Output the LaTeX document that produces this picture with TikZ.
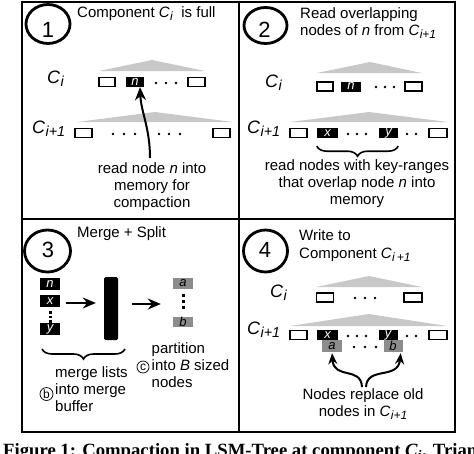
\documentclass[tikz,border=0pt]{standalone}
\usepackage{fontspec}
\setmainfont{Liberation Sans}
\newfontfamily\capfont{Liberation Serif}
\usepackage{graphicx}
\usetikzlibrary{decorations.pathreplacing,arrows.meta,shapes.geometric}
\definecolor{trigray}{RGB}{200,200,200}
\definecolor{boxgray}{RGB}{140,140,140}
\newcommand\CC[1]{\textit{C}\kern0.3pt\raisebox{-0.42ex}{\scalebox{0.8}{\textit{#1}}}}
\tikzset{
  frame/.style={line width=2pt},
  wbox/.style={draw, line width=1.5pt, fill=white, minimum width=16pt, minimum height=9pt, inner sep=0pt},
  bbox/.style={fill=black, text=white, minimum width=20pt, minimum height=10pt, inner sep=0pt, font=\itshape\fontsize{13}{13}\selectfont},
  gbox/.style={fill=boxgray, text=black, minimum width=20pt, minimum height=11pt, inner sep=0pt, font=\itshape\fontsize{13}{13}\selectfont},
  tri/.style={fill=trigray},
  ring/.style={draw, ellipse, line width=2.8pt, minimum width=44pt, minimum height=39pt, inner sep=0pt},
  digit/.style={font=\fontsize{22}{22}\selectfont, inner sep=0pt},
  txt/.style={font=\fontsize{15}{17}\selectfont, inner sep=0pt},
  title/.style={txt, align=left},
  lbl/.style={font=\fontsize{18}{18}\selectfont, anchor=base west, inner sep=0pt},
  bigarrow/.style={line width=2pt, -{Stealth[length=13pt,width=11pt]}},
  brc/.style={line width=1.6pt, decorate, decoration={brace, mirror, amplitude=10pt}},
  smallring/.style={draw, circle, line width=0.7pt, inner sep=0.6pt, minimum size=13pt, font=\fontsize{12}{12}\selectfont},
}
\newcommand\dotrow[2]{\foreach \xx in {#1} {\fill (\xx,#2) circle (1.4);}}
\begin{document}
\begin{tikzpicture}[x=1pt,y=-1pt]
\useasboundingbox (0,0) rectangle (474,453);
% frame
\draw[frame] (22,1.5) rectangle (455,432);
\draw[frame] (239,1.5) -- (239,432);
\draw[frame] (22,219) -- (455,219);

% ---------- Panel 1 ----------
\node[ring] (r1) at (48,24) {};
\node[digit] (d1) at (48,30) {1};
\node[txt, anchor=base west] (h1) at (77,17) {Component \CC{i}\ \ is full};
\fill[tri] (99,71) -- (152,60) -- (205,71) -- cycle;
\node[lbl] (l1a) at (47,83) {\CC{i}};
\node[wbox] (w1a) at (107,82) {};
\node[bbox, minimum width=18pt] (n1) at (135,82) {n};
\dotrow{156,166,176}{83}
\node[wbox, minimum width=17pt] (w1b) at (196.5,82) {};
\fill[tri] (77,122) -- (155,112) -- (233,122) -- cycle;
\node[lbl] (l1b) at (32,133) {\CC{i+1}};
\node[wbox, minimum width=17pt] (w1c) at (83.5,133) {};
\dotrow{113,124,135}{134}
\dotrow{159,169,180}{134}
\node[wbox, minimum width=17pt] (w1d) at (221.5,133) {};
\node[txt, align=center, anchor=north] (t1) at (152,162) {read node \textit{n} into\\memory for\\compaction};
\draw[bigarrow] ([yshift=4pt,xshift=-2pt]t1.north) .. controls (150,128) and (141,112) .. ([xshift=5pt]n1.south);

% ---------- Panel 2 ----------
\node[ring, minimum width=43pt, minimum height=36pt] (r2) at (265.5,25.5) {};
\node[digit] (d2) at (264.5,29.5) {2};
\node[title, anchor=north west] (h2) at (300,7) {Read overlapping\\nodes of \textit{n} from \CC{i+1}};
\fill[tri] (317,73) -- (370,62) -- (422,73) -- cycle;
\node[lbl] (l2a) at (265,87) {\CC{i}};
\node[wbox] (w2a) at (325,86.5) {};
\node[bbox] (n2) at (351,86.5) {n};
\dotrow{376,385,394}{87}
\node[wbox, minimum width=17pt] (w2b) at (413.5,86.5) {};
\fill[tri] (290,122) -- (369,112) -- (448,122) -- cycle;
\node[lbl] (l2b) at (247,133) {\CC{i+1}};
\node[wbox, minimum width=17pt] (w2c) at (298.5,133) {};
\node[bbox, minimum width=21pt] (x2) at (327.5,133) {x};
\dotrow{348,357,366}{134}
\node[bbox, minimum width=19pt] (y2) at (388.5,133) {y};
\dotrow{407,416}{134}
\node[wbox, minimum width=18pt] (w2d) at (438,133) {};
\draw[brc] ([yshift=-8pt]x2.south west) -- ([yshift=-8pt]y2.south east);
\node[txt, align=center, anchor=north] (t2) at (357,159) {read nodes with key-ranges\\that overlap node \textit{n} into\\memory};

% ---------- Panel 3 ----------
\node[ring, minimum width=46pt, minimum height=42pt] (r3) at (47.5,251) {};
\node[digit] (d3) at (48,250) {3};
\node[txt, anchor=base west] (h3) at (77,237) {Merge + Split};
\node[bbox, minimum height=12pt] (n3) at (50,284) {n};
\node[bbox, minimum height=12pt] (x3) at (50,301) {x};
\foreach \yy in {311,315.5,320} {\fill (48.5,\yy) rectangle (51.5,\yy+2.5);}
\node[bbox, minimum height=12pt] (y3) at (50,329) {y};
\node[fill=black, rounded corners=1.5pt, minimum width=14pt, minimum height=63pt, inner sep=0pt] (bar) at (111,308.5) {};
\node[gbox] (a3) at (183,283.5) {a};
\node[gbox, minimum height=10pt] (b3) at (183,322) {b};
\foreach \yy in {294,300,306} {\fill (181.5,\yy) rectangle (184.5,\yy+3);}
\draw[bigarrow] ([xshift=6pt,yshift=-2pt]x3.east) -- ([xshift=-8pt,yshift=-2pt]x3.east -| bar.west);
\draw[bigarrow] ([xshift=14pt,yshift=-3pt]bar.east |- x3.east) -- ([xshift=-12pt,yshift=-3pt]x3.east -| a3.west);
\draw[brc] (42,349) -- (125,349);
\node[smallring] (cb) at (46.5,394) {b};
\node[txt, align=left, anchor=north west] (t3a) at (55,366) {merge lists\\into merge\\buffer};
\node[smallring, minimum size=12pt] (cc) at (143,367) {c};
\node[txt, align=left, anchor=north west] (t3b) at (151.5,342) {partition\\into \textit{B} sized\\nodes};

% ---------- Panel 4 ----------
\node[ring, minimum width=44pt, minimum height=42pt] (r4) at (265.5,251) {};
\node[digit] (d4) at (265,250) {4};
\node[title, anchor=north west, font=\fontsize{15}{18}\selectfont] (h4) at (299,229) {Write to\\Component \CC{i\,+1}};
\fill[tri] (316,287) -- (369,276) -- (422,287) -- cycle;
\node[lbl] (l4a) at (270,297) {\CC{i}};
\node[wbox, minimum width=17pt] (w4a) at (325,297.5) {};
\dotrow{355,365,375}{298}
\node[wbox, minimum width=18pt] (w4b) at (413,297.5) {};
\fill[tri] (290,326) -- (369,314) -- (447,326) -- cycle;
\node[lbl] (l4b) at (247,334) {\CC{i+1}};
\node[wbox, minimum width=17pt] (w4c) at (298.5,335) {};
\node[bbox, minimum width=21pt] (x4) at (327.5,335) {x};
\dotrow{348,357,366}{336}
\node[bbox, minimum width=19pt] (y4) at (388,335) {y};
\dotrow{407,416}{336}
\node[wbox, minimum width=18pt] (w4d) at (438,335) {};
\node[gbox, minimum height=12pt] (a4) at (332,346) {a};
\node[gbox, minimum width=19pt, minimum height=12pt] (b4) at (393,346) {b};
\dotrow{354,365,376}{347}
\node[txt, align=center, anchor=north] (t4) at (363,388) {Nodes replace old\\nodes in \CC{i+1}};
\draw[bigarrow, -{Stealth[length=11pt,width=9pt]}] ([xshift=-1pt,yshift=1pt]t4.north) .. controls (361,366) and (334,380) .. ([yshift=-1pt]a4.south);
\draw[bigarrow, -{Stealth[length=11pt,width=9pt]}] ([xshift=3pt,yshift=1pt]t4.north) .. controls (367,366) and (398,380) .. ([xshift=-2pt,yshift=-1pt]b4.south east);

% caption (cut off by the page edge, as in the reference)
\node[anchor=base west, inner sep=0pt, font=\capfont\bfseries\fontsize{18.7}{19}\selectfont] (cap) at (3,456) {Figure 1: Compaction in LSM-Tree at component \textit{C}\textsubscript{\textit{i}}. Triangles};
\end{tikzpicture}
\end{document}
